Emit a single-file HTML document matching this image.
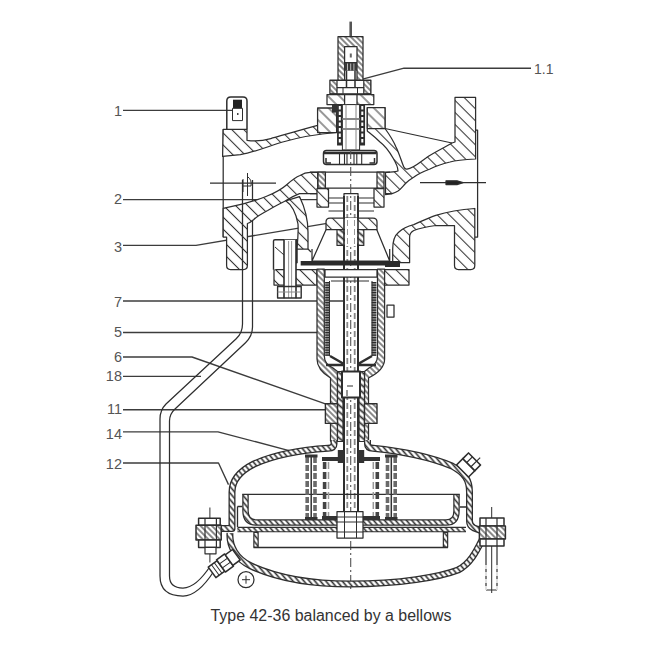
<!DOCTYPE html>
<html><head><meta charset="utf-8">
<style>
html,body{margin:0;padding:0;background:#fff;}
svg{display:block;}
text{font-family:"Liberation Sans",sans-serif;}
</style></head><body>
<svg width="650" height="650" viewBox="0 0 650 650">
<defs>
<pattern id="h" width="8.5" height="8.5" patternUnits="userSpaceOnUse" patternTransform="rotate(-45)"><rect width="8.5" height="8.5" fill="#fff"/><line x1="4.25" y1="0" x2="4.25" y2="8.5" stroke="#333" stroke-width="1.05"/></pattern>
<pattern id="hw" width="8" height="8" patternUnits="userSpaceOnUse" patternTransform="rotate(-45)"><rect width="8" height="8" fill="#fff"/><line x1="4" y1="0" x2="4" y2="8" stroke="#333" stroke-width="1"/></pattern>
<pattern id="hs" width="4" height="4" patternUnits="userSpaceOnUse" patternTransform="rotate(-45)"><rect width="4" height="4" fill="#fff"/><line x1="2" y1="0" x2="2" y2="4" stroke="#3a3a3a" stroke-width="1.2"/></pattern>
<pattern id="hc" width="5" height="5" patternUnits="userSpaceOnUse" patternTransform="rotate(-50)"><rect width="5" height="5" fill="#fff"/><line x1="2.5" y1="0" x2="2.5" y2="5" stroke="#2e2e2e" stroke-width="1.8"/></pattern>
<pattern id="hd" width="4.2" height="4.2" patternUnits="userSpaceOnUse" patternTransform="rotate(-40)"><rect width="4.2" height="4.2" fill="#fff"/><line x1="2.1" y1="0" x2="2.1" y2="4.2" stroke="#333" stroke-width="1.6"/></pattern>
</defs>
<g fill="none" stroke="#2e2e2e" stroke-width="1.25" stroke-linejoin="round">

<!-- ===== leader lines ===== -->
<g stroke="#3c3c3c" stroke-width="1.35">
<path d="M123,110.3 H233"/>
<path d="M123,199.6 H317"/>
<path d="M123,245.4 H196 L327,223.3"/>
<path d="M123,301 H346"/>
<path d="M123,332.5 H317"/>
<path d="M123,357 H192 L325.4,403.8"/>
<path d="M123,376.4 H201"/>
<path d="M123,409.7 H325"/>
<path d="M123,431.8 H218 L290,450.8"/>
<path d="M123,463 H218.5 L228.5,484.6"/>
<path d="M356,80.8 L404,68.2 H531"/>
</g>

<!-- ===== pipe ===== -->
<path d="M242.5,180 V324 Q242.5,333 236.2,338.8 L166,404 Q160,410 160,419 V576 Q160,596 183,596 Q198,596 214,571"/>
<path d="M252.5,180 V327 Q252.5,336 245.5,342.7 L175,409 Q169.5,414 169.5,421 V576 Q169.5,588 183,588 Q196,588 211,565"/>

<!-- ===== left flange & body ===== -->
<path d="M223.2,129.3 V237"/>
<path d="M223.2,129.3 H247 V140.3 C256,141.8 263,140.8 270.8,138.6 C285,134.5 300,130 317.6,125.3 V108 H336.5 V132.5 C318,134 300,137 282.7,142 C268,146.5 255,152 240.4,154.7 L222.6,156.4 Z" fill="url(#h)"/>
<path d="M223.2,208.3 L243.2,203.8 C252,201.5 260,199 266,196.5 C275,193 282,189 287,184.5 C292,180 296,177 300,175.5 C304,173 307,172.3 310,172.3 H317.7 V193.6 H299.5 C293,196 290,198 285.7,200.8 C279,204 272,208 267.7,210.5 C262,213.5 257,216.5 253.8,219.5 C251.5,221.5 249.5,223 247.4,223.5 V265.6 Q247.4,269.6 243.4,269.6 H230.6 Q226.6,269.6 226.6,265.6 V237 H223.2 Z" fill="url(#h)"/>
<!-- lower body wall arcs -->
<path d="M285.7,200.8 C292,205 296,213 298,224 C298.6,232 297.5,242 297,249 L308,249 V232 C308,220 305,208 299.5,196.6 Z" fill="url(#h)"/>
<path d="M297,249 V263 M308,249 L311,252"/>

<path d="M242.5,203.5 V269.6" stroke-width="1.3"/>
<!-- flow symbol -->
<path d="M210,183 H276"/>
<path d="M247.5,173 V196 M243,179 V192 M243,186 H251 Q252,180 248,177" stroke-width="1"/>

<!-- ===== right flange & body ===== -->
<path d="M475.6,130 H477.6 V237 H474.8"/>
<path d="M367.3,107.7 H385 V128.5 C389,134 393,140 396,147 C399,153 401,160 403,165 C404,168 405,169.5 407,169.2 C414,168 420,162 426,158 C433,153 440,150 452,143 L455,142 V97.4 H475.6 V159 C465,159.5 455,160.5 450,162 C440,164.5 435,166.5 430,169 C422,172 418,174 414,177 C410,179.5 408,181 406,183 C403,186 401,189 398,191 C394,193.5 390,194.5 385.5,194.5 V172.5 C390,172 396,172 398,171 C398,167 396,163 393,158 C389,151 384,145 380,142 C375,137 371,134 367.3,131 Z" fill="url(#h)"/>
<path d="M385,128.5 L452,143"/>
<path d="M474.8,208.5 V265.5 Q474.8,269.5 470.8,269.5 H458.5 Q454.5,269.5 454.5,265.5 V225.5 H435.8 C428,226.5 420,228 413.8,230.5 C411,232 409.6,234 409.6,237.3 V262.7 H392.7 V249 C392.7,242 394,236 398.6,232.2 C403,228 408,226 413.8,224.6 C420,222 428,218 435.8,215.3 C445,212.5 455,210 474.8,208.5 Z" fill="url(#h)"/>

<!-- arrow -->
<path d="M420,182.6 H486"/>
<path d="M446,180.8 H457 L463,182.6 L457,184.6 H446 Z" fill="#222"/>

<!-- ===== top stem / cap ===== -->
<path d="M350.7,21.6 V37" stroke="#555" stroke-width="2.6"/>
<path d="M338,36.7 H363 V80.8 H338 Z M344.6,46.5 V80.8 H357 V46.5 Z" fill="url(#hs)" fill-rule="evenodd"/>
<path d="M344.6,62.5 H357" stroke-width="1"/>
<rect x="349.8" y="53.5" width="2" height="4" fill="#666" stroke="none"/>
<rect x="344.6" y="63" width="12.4" height="7.8" fill="#3a3a3a" stroke="none"/>
<path d="M347.5,63.5 V70.5 M350.7,63.5 V70.5 M353.9,63.5 V70.5" stroke="#bbb" stroke-width="1"/>
<path d="M346.5,70.8 V80.8 M355,70.8 V80.8" stroke-width="1.5"/>
<!-- nut -->
<path d="M330,80.3 H370.8 V93.8 H330 Z" fill="#fff" stroke-width="1.5"/>
<rect x="330.7" y="81" width="6.3" height="12.1" fill="url(#hs)" stroke="none"/>
<rect x="363.8" y="81" width="6.3" height="12.1" fill="url(#hs)" stroke="none"/>
<rect x="337" y="87.7" width="26.8" height="6.1" fill="#fff"/>
<path d="M343,87.7 V93.8 M357.5,87.7 V93.8" stroke-width="1"/>
<path d="M337,80.8 V87.7 M363.8,80.8 V87.7" stroke-width="1.2"/>
<path d="M346.5,80.8 V87.7 M355,80.8 V87.7" stroke-width="1.5"/>
<!-- gland flange -->
<path d="M327,94.6 H373.8 V104.6 H327 Z" fill="url(#hw)"/>
<rect x="344.6" y="94.6" width="12.4" height="10" fill="#fff"/>
<!-- bosses -->
<rect x="317.6" y="108" width="19" height="24.5" fill="url(#hw)"/>
<rect x="367.3" y="107.7" width="17.7" height="20.8" fill="url(#hw)"/>
<!-- packing -->
<rect x="332" y="104.6" width="5" height="8" fill="#333" stroke="none"/>
<path d="M339.8,104.6 V145.5 M362.3,104.6 V145.5" stroke="#2e2e2e" stroke-width="5.5"/>
<path d="M339.8,106 V144 M362.3,106 V144" stroke="#fff" stroke-width="2" stroke-dasharray="3.5,2"/>
<rect x="342.4" y="104.6" width="17.2" height="45.4" fill="#fff" stroke-width="1"/>
<path d="M342.4,119 H359.6 M342.4,129 H359.6" stroke="#888" stroke-width="2"/>
<path d="M346,104.6 V150 M356,104.6 V150" stroke="#888" stroke-width="1"/>

<!-- ===== upper plug ===== -->
<rect x="323.5" y="150.5" width="53.5" height="14.1" rx="3" fill="#fff" stroke-width="1.5"/>
<path d="M324,153 H376.5" stroke-width="2.5"/>
<path d="M339.5,152 V164.6 M344.5,152 V164.6 M347,152 V164.6 M354,152 V164.6 M356.8,152 V164.6 M361.7,152 V164.6" stroke-width="1.1"/>
<path d="M326,158 V163 H331 M374.5,158 V163 H369.5" stroke-width="1.5"/>

<!-- ===== seat ring ===== -->
<path d="M310,172.2 H390"/>
<rect x="318" y="172.2" width="7.4" height="16" fill="url(#hs)"/>
<rect x="377" y="172.2" width="7" height="16" fill="url(#hs)"/>
<path d="M325.4,188 H377"/>
<path d="M317,188.6 H328.5 V207 H317 Z" fill="url(#h)"/>
<path d="M374,188.6 H384 V207 H374 Z" fill="url(#h)"/>
<path d="M328.5,198 H343 M358.6,198 H374 M328.5,203 H343 M358.6,203 H374 M328.5,211 H374" stroke-width="1.1"/>
<path d="M310,193.5 H317 M385,193.5 H392"/>

<!-- ===== stem ===== -->
<rect x="344" y="193.5" width="14" height="318" fill="#fff"/>
<path d="M344,196 V511 M358,196 V511" stroke="#2e2e2e" stroke-width="2"/>
<path d="M347.3,196 V511 M354.7,196 V511" stroke="#888" stroke-width="1.8" stroke-dasharray="6,3"/>
<path d="M350.7,150 V592" stroke="#555" stroke-width="1.1" stroke-dasharray="9,3,2,3"/>

<!-- ===== lower plug ===== -->
<path d="M330,218 H373 Q377,218 377,222 V229.7 H326 V222 Q326,218 330,218 Z" fill="url(#h)"/>
<rect x="337" y="229.7" width="26.8" height="15.7" fill="url(#hc)" stroke-width="1.2"/>
<rect x="345" y="218" width="12" height="28" fill="#fff" stroke="none"/>
<path d="M344,218 V246 M358,218 V246" stroke-width="1.6"/>
<path d="M347.5,220 V246 M354.5,220 V246" stroke="#999" stroke-width="1" stroke-dasharray="6,3"/>
<path d="M326,229.7 L312,261 M312,249 V261 M376.8,229.7 L389.7,261 M389.7,249 V261 M312,261 H389.7"/>

<!-- ===== bonnet ===== -->
<rect x="300.7" y="261" width="99.3" height="4.5" fill="#2a2a2a" stroke="none"/>
<rect x="385" y="261" width="15" height="6" fill="#2a2a2a" stroke="none"/>
<path d="M274,269.6 H317 V285 H274 Z" fill="url(#h)"/>
<path d="M384,269.6 H409 V285 H384 Z" fill="url(#h)"/>
<!-- bolt -->
<path d="M273.5,269.8 V241 Q273.5,239.8 275,239.8 H296.6 V263.5" fill="#fff" stroke-width="1.4"/>
<path d="M275,247 L284,255" stroke-width="1"/>
<rect x="284" y="239.8" width="12" height="58.5" fill="#fff" stroke="none"/>
<path d="M284,239.8 V298.3 M296,239.8 V298.3" stroke-width="1.6"/>
<path d="M288.6,241 V298 M291.6,241 V298" stroke="#999" stroke-width="1"/>
<rect x="277.6" y="286.5" width="23.6" height="11.5" stroke-width="1.4"/>
<path d="M277.6,292 H301" stroke="#888" stroke-width="1"/>

<!-- ===== bellows housing ===== -->
<path d="M317,269 H324.3 V356 Q324.3,364 333,368 L337.5,371.5 V441 H330.5 V378 Q317,370 317,359 Z" fill="url(#hs)"/>
<path d="M384.6,269 H377.5 V356 Q377.5,364 369,368 L364.5,371.5 V441 H368.5 V378 Q384.6,370 384.6,359 Z" fill="url(#hs)"/>
<path d="M327.5,282 V356 M374,282 V356" stroke="#999" stroke-width="4.6"/>
<path d="M327.5,282 V356 M374,282 V356" stroke="#2a2a2a" stroke-width="4.6" stroke-dasharray="1.3,1.2"/>
<path d="M329.5,281 V356 M372,281 V356" stroke-width="1"/>
<rect x="325" y="269.5" width="52" height="7.5" fill="#fff"/>
<path d="M331,281 H369" stroke-width="1"/>
<path d="M330,356 L344,364 M372,356 L358,364 M326,365 H344 M358,365 H376" stroke-width="2.5"/>
<rect x="387" y="305" width="7" height="12"/>
<!-- neck inner tube -->
<rect x="337.5" y="371.5" width="5.5" height="70" fill="url(#hc)" stroke-width="1.2"/>
<rect x="359" y="371.5" width="5.5" height="70" fill="url(#hc)" stroke-width="1.2"/>
<rect x="342" y="371.5" width="18" height="26" fill="#fff" stroke-width="2"/>
<path d="M347,386 H353 M347,390 V396" stroke-width="1"/>
<!-- nut 11 -->
<path d="M325.4,403.7 H337.5 V423.4 H325.4 Z M364.5,403.7 H377 V423.4 H364.5 Z" fill="url(#hs)" stroke-width="1.4"/>

<!-- ===== diaphragm shells (chain style) ===== -->
<g stroke-linecap="butt">
<path id="shL" d="M334,440 V444 Q334,448 328,448.3 C300,450 272,456 254,464 C240,471 232,480 232,492 V528.5 H220" stroke="#2e2e2e" stroke-width="7"/>
<path d="M334,440 V444 Q334,448 328,448.3 C300,450 272,456 254,464 C240,471 232,480 232,492 V528.5 H220" stroke="url(#hd)" stroke-width="4.4"/>
<path d="M367.5,440 V444 Q367.5,448 373,448.3 C400,451 430,457 452,466 C465,473 469.5,480 469.5,492 V521 Q469.5,526 474,528 L482,531" stroke="#2e2e2e" stroke-width="7"/>
<path d="M367.5,440 V444 Q367.5,448 373,448.3 C400,451 430,457 452,466 C465,473 469.5,480 469.5,492 V521 Q469.5,526 474,528 L482,531" stroke="url(#hd)" stroke-width="4.4"/>
<path d="M230,533 C229,546 236,559 251,566 C275,577 310,584 350,584 C400,584 440,577 458,570 C470,564 476,552 482,540" stroke="#2e2e2e" stroke-width="7"/>
<path d="M230,533 C229,546 236,559 251,566 C275,577 310,584 350,584 C400,584 440,577 458,570 C470,564 476,552 482,540" stroke="url(#hd)" stroke-width="4.4"/>
<!-- cup -->
<path d="M245.5,494.4 V511 Q245.5,522.6 257,522.6 H446 Q456.5,522.6 456.5,511 V494.4" stroke="#2e2e2e" stroke-width="6.5"/>
<path d="M245.5,494.4 V511 Q245.5,522.6 257,522.6 H446 Q456.5,522.6 456.5,511 V494.4" stroke="url(#hd)" stroke-width="4"/>
<path d="M242.2,494.4 H459.8" stroke-width="1.4"/>
<!-- membrane -->
<path d="M237.5,529.6 H466" stroke="#2e2e2e" stroke-width="5.5"/>
<path d="M237.5,529.6 H466" stroke="url(#hd)" stroke-width="3.1"/>
<path d="M237.5,506.5 H242.2 M237.5,506.5 V527 M459.8,507 H466" stroke-width="1.3"/>
<!-- lower plate -->
<path d="M253.5,547.5 H448" stroke-width="1.4"/>
<path d="M256,532 V547.5 M445.5,532 V547.5" stroke="#2e2e2e" stroke-width="5.5"/>
<path d="M256,533 V546.5 M445.5,533 V546.5" stroke="url(#hd)" stroke-width="3.1"/>
</g>

<!-- springs -->
<path d="M307.2,457 V518 M315,457 V518 M387.5,457 V518 M395.2,457 V518" stroke="#6a6a6a" stroke-width="3.6" stroke-dasharray="6,2"/>
<path d="M311.2,456 V519 M391.3,456 V519" stroke="#333" stroke-width="1.5"/>
<path d="M305,456 H317.5 M385,456 H397.5 M305,518.5 H317.5 M385,518.5 H397.5" stroke="#333" stroke-width="3"/>
<path d="M324.6,462 V518 M377.3,462 V518" stroke="#444" stroke-width="3.6" stroke-dasharray="7,3"/>
<path d="M328.5,462 V518 M373.3,462 V518" stroke="#999" stroke-width="1.5" stroke-dasharray="7,3"/>
<path d="M322,459 H342.5 M358.6,459 H380 M322,518 H338 M363,518 H380" stroke="#333" stroke-width="4"/>
<path d="M340.8,450 V463 M361.2,450 V463" stroke="#333" stroke-width="6"/>
<!-- center nut -->
<rect x="337" y="511.5" width="26" height="26.5" fill="#fff"/>
<path d="M337,517 H363 M337,522 H363 M337,532 H363 M344.5,511.5 V538 M356.5,511.5 V538" stroke-width="1"/>

<!-- ===== bolts ===== -->
<path d="M209.9,507.5 V562.5" stroke-width="1"/>
<rect x="198.6" y="518.3" width="21.6" height="7" fill="#fff" stroke-width="1.5"/>
<rect x="196" y="525.3" width="25.2" height="14.7" fill="url(#hs)" stroke-width="1.5"/>
<rect x="198.6" y="540" width="21.6" height="7.4" fill="#fff" stroke-width="1.5"/>
<rect x="205" y="547.4" width="11" height="6.4" fill="#fff" stroke-width="1.2"/>
<path d="M205,518.3 V547.4 M216.4,518.3 V547.4" stroke-width="1.2"/>
<path d="M491.7,507 V593" stroke-width="1"/>
<rect x="480" y="518" width="24" height="8" fill="#fff" stroke-width="1.5"/>
<rect x="479.4" y="526" width="26" height="13" fill="url(#hs)" stroke-width="1.5"/>
<rect x="480" y="539" width="24" height="7" fill="#fff" stroke-width="1.5"/>
<path d="M486,518 V590 M497,518 V590 M486,590 H497" stroke-width="1.2"/>
<path d="M486,565 V590 M497,565 V590" stroke="#fff" stroke-width="1.5" stroke-dasharray="4,3"/>

<!-- top-right plug -->
<g transform="translate(462.5,471) rotate(45)">
<rect x="-8.5" y="-9" width="17" height="9" fill="#fff" stroke-width="1.6"/>
<rect x="-8.5" y="-17" width="17" height="8" fill="#fff" stroke-width="1.6"/>
<path d="M-3,-17 V-9 M3,-17 V-9" stroke-width="1.2"/>
<path d="M3,-17 V-22" stroke-width="1.2"/>
</g>
<!-- pipe fitting -->
<g transform="translate(225,563) rotate(-36)">
<rect x="-16" y="-6.5" width="11" height="13" fill="#fff" stroke-width="1.5"/>
<path d="M-12,-6.5 V6.5 M-8.5,-6.5 V6.5" stroke-width="1"/>
<rect x="-5" y="-7.5" width="10" height="15" fill="#fff" stroke-width="1.6"/>
<path d="M-5,-2.5 H5 M-5,2.5 H5" stroke-width="1"/>
<rect x="5" y="-6.5" width="9" height="13" fill="#fff" stroke-width="1.5"/>
</g>
<circle cx="246" cy="579.7" r="8"/>
<path d="M242,579.7 H250 M246,575.7 V583.7" stroke-width="1"/>

<!-- item 1 plug -->
<path d="M226.8,129.3 V101 Q226.8,97 230.8,97 H243 Q247,97 247,101 V129.3" stroke-width="1.5"/>
<rect x="233" y="99.7" width="9" height="8.6" fill="#222" stroke="none"/>
<rect x="232.5" y="108.3" width="10" height="12.3" stroke-width="1"/>
<rect x="237" y="113" width="1.5" height="2" fill="#444" stroke="none"/>
</g>

<!-- labels -->
<g font-size="14.5" fill="#555" text-anchor="end">
<text x="122" y="115.7">1</text>
<text x="122" y="203.5">2</text>
<text x="122" y="251.5">3</text>
<text x="122" y="306.6">7</text>
<text x="122" y="337">5</text>
<text x="122" y="362">6</text>
<text x="122" y="381">18</text>
<text x="122" y="414">11</text>
<text x="122" y="438.5">14</text>
<text x="122" y="469">12</text>
</g>
<text x="534" y="73.8" font-size="14" fill="#555">1.1</text>
<text x="210.5" y="621" font-size="16" textLength="241" lengthAdjust="spacingAndGlyphs" fill="#333">Type 42-36 balanced by a bellows</text>
</svg>
</body></html>
